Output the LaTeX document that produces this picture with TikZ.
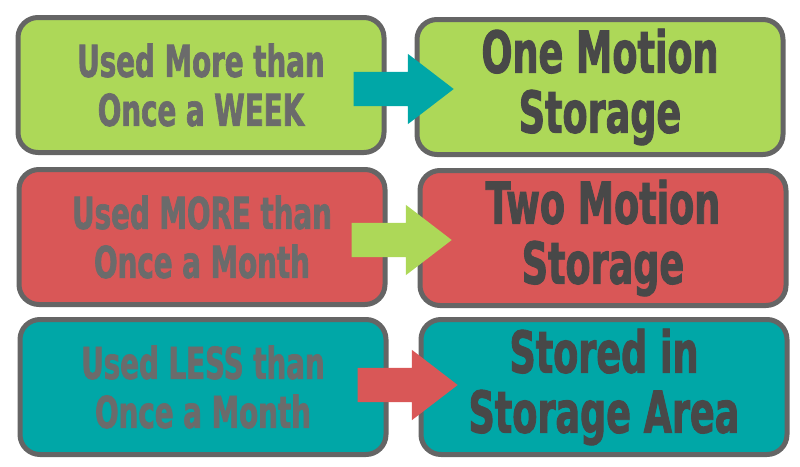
\documentclass[tikz,border=0pt]{standalone}
\usepackage{fontspec}
\setmainfont{DejaVu Sans Condensed}[FakeStretch=0.7, BoldFeatures={FakeBold=1.5}]
\usepackage{xcolor}
\usetikzlibrary{shapes.arrows,calc}
\definecolor{limegreen}{HTML}{ADD858}
\definecolor{brickred}{HTML}{D95757}
\definecolor{tealblue}{HTML}{00A7A7}
\definecolor{framegray}{HTML}{656565}
\definecolor{lefttext}{HTML}{6B6B6B}
\definecolor{righttext}{HTML}{484848}
\tikzset{
  box/.style = {draw = framegray, line width = 5pt, rounded corners = 20pt,
    minimum width = 366pt, minimum height = 135pt, inner sep = 0pt, align = center},
  usedtext/.style = {text = lefttext, font = \fontsize{44}{49}\selectfont\bfseries},
  storetext/.style = {text = righttext, font = \fontsize{58}{60}\selectfont\bfseries},
  blockarrow/.style = {single arrow, draw = none, anchor = tail, minimum height = 100pt,
    inner xsep = 0pt, inner ysep = 17pt, single arrow head extend = 18pt,
    single arrow tip angle = 75}
}

\begin{document}
\begin{tikzpicture}[x = 1pt, y = -1pt]
    \useasboundingbox (0,0) rectangle (800,466);
    % Left column
    \node[box, fill = limegreen, usedtext] (used1) at (201,85) {Used More than\\Once a WEEK};
    \node[box, fill = brickred, usedtext] (used2) at (202,237) {Used MORE than\\Once a Month};
    \node[box, fill = tealblue, usedtext] (used3) at (203,387) {Used LESS than\\Once a Month};
    % Right column
    \node[box, fill = limegreen, storetext] (store1) at (600,87) {One Motion\\Storage};
    \node[box, fill = brickred, storetext] (store2) at (603,238) {Two Motion\\Storage};
    \node[box, fill = tealblue, storetext] (store3) at (604,387) {Stored in\\Storage Area};
    % Arrows between the columns
    \node[blockarrow, fill = tealblue] (go1) at ($(used1.east)+(-33,4)$) {};
    \node[blockarrow, fill = limegreen] (go2) at ($(used2.east)+(-36,3)$) {};
    \node[blockarrow, fill = brickred] (go3) at ($(used3.east)+(-31,-2)$) {};
\end{tikzpicture}
\end{document}
